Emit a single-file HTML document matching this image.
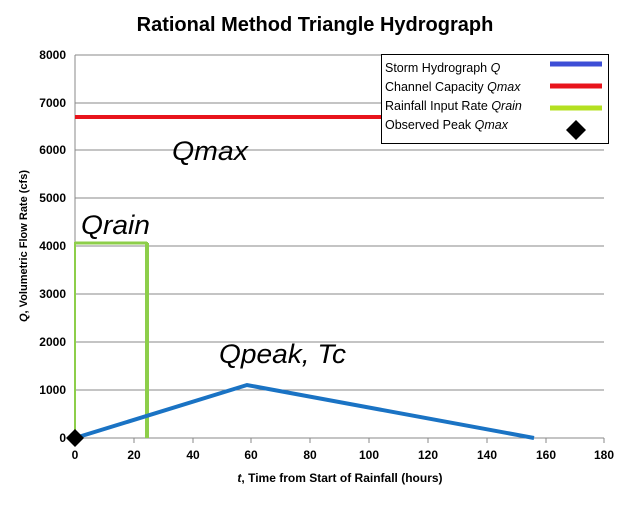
<!DOCTYPE html>
<html><head><meta charset="utf-8"><style>body{margin:0;background:#fff}</style></head><body>
<svg width="640" height="503" xmlns="http://www.w3.org/2000/svg" font-family="Liberation Sans, sans-serif">
<rect width="640" height="503" fill="#fff"/>
<text x="315" y="31" font-size="20" font-weight="bold" text-anchor="middle">Rational Method Triangle Hydrograph</text>
<g stroke="#888" stroke-width="1">
<line x1="75" y1="55" x2="604" y2="55"/><line x1="75" y1="103" x2="604" y2="103"/>
<line x1="75" y1="150" x2="604" y2="150"/><line x1="75" y1="198" x2="604" y2="198"/>
<line x1="75" y1="246" x2="604" y2="246"/><line x1="75" y1="294" x2="604" y2="294"/>
<line x1="75" y1="342" x2="604" y2="342"/><line x1="75" y1="390" x2="604" y2="390"/>
<line x1="75" y1="438" x2="604" y2="438"/><line x1="75" y1="55" x2="75" y2="438"/>
<line x1="70" y1="438" x2="75" y2="438"/>
</g>
<g stroke="#888">
<line x1="134" y1="438" x2="134" y2="443"/><line x1="193" y1="438" x2="193" y2="443"/><line x1="251" y1="438" x2="251" y2="443"/><line x1="310" y1="438" x2="310" y2="443"/><line x1="369" y1="438" x2="369" y2="443"/><line x1="428" y1="438" x2="428" y2="443"/><line x1="487" y1="438" x2="487" y2="443"/><line x1="546" y1="438" x2="546" y2="443"/><line x1="604" y1="438" x2="604" y2="443"/>
</g>
<g font-size="12" font-weight="bold" text-anchor="end">
<text x="66" y="59">8000</text><text x="66" y="107">7000</text><text x="66" y="154">6000</text><text x="66" y="202">5000</text><text x="66" y="250">4000</text><text x="66" y="298">3000</text><text x="66" y="346">2000</text><text x="66" y="394">1000</text><text x="66" y="442">0</text>
</g>
<g font-size="12" font-weight="bold" text-anchor="middle">
<text x="75" y="459">0</text><text x="134" y="459">20</text><text x="193" y="459">40</text><text x="251" y="459">60</text><text x="310" y="459">80</text><text x="369" y="459">100</text><text x="428" y="459">120</text><text x="487" y="459">140</text><text x="546" y="459">160</text><text x="604" y="459">180</text>
</g>
<text x="340" y="482" font-size="12" font-weight="bold" text-anchor="middle"><tspan font-style="italic">t</tspan>, Time from Start of Rainfall (hours)</text>
<text transform="translate(27,246) rotate(-90)" font-size="11" font-weight="bold" text-anchor="middle"><tspan font-style="italic">Q</tspan>, Volumetric Flow Rate (cfs)</text>
<line x1="75" y1="117" x2="604" y2="117" stroke="#e8141c" stroke-width="4"/>
<polyline points="75,438 75,243 147,243 147,438" fill="none" stroke="#8dce4a" stroke-width="2"/>
<line x1="147" y1="243" x2="147" y2="438" stroke="#8dce4a" stroke-width="4"/>
<line x1="75" y1="243" x2="147" y2="243" stroke="#8dce4a" stroke-width="3"/>
<polyline points="75,438 247,385 534,438" fill="none" stroke="#1a73c4" stroke-width="4"/>
<polygon points="75,429 84,438 75,447 66,438" fill="#000"/>
<g font-size="27" font-style="italic">
<text x="172" y="160" textLength="76" lengthAdjust="spacingAndGlyphs">Qmax</text>
<text x="81" y="234" textLength="69" lengthAdjust="spacingAndGlyphs">Qrain</text>
<text x="219" y="363" textLength="127" lengthAdjust="spacingAndGlyphs">Qpeak, Tc</text>
</g>
<rect x="381.5" y="54.5" width="227" height="89" fill="#fff" stroke="#000"/>
<g font-size="12.5">
<text x="385" y="72">Storm Hydrograph <tspan font-style="italic">Q</tspan></text>
<text x="385" y="91">Channel Capacity <tspan font-style="italic">Qmax</tspan></text>
<text x="385" y="110">Rainfall Input Rate <tspan font-style="italic">Qrain</tspan></text>
<text x="385" y="129">Observed Peak <tspan font-style="italic">Qmax</tspan></text>
</g>
<line x1="550" y1="64" x2="602" y2="64" stroke="#3d4ed6" stroke-width="5"/>
<line x1="550" y1="86" x2="602" y2="86" stroke="#e8141c" stroke-width="5"/>
<line x1="550" y1="108" x2="602" y2="108" stroke="#b4e020" stroke-width="5"/>
<polygon points="576,120 586,130 576,140 566,130" fill="#000"/>
</svg>
</body></html>
